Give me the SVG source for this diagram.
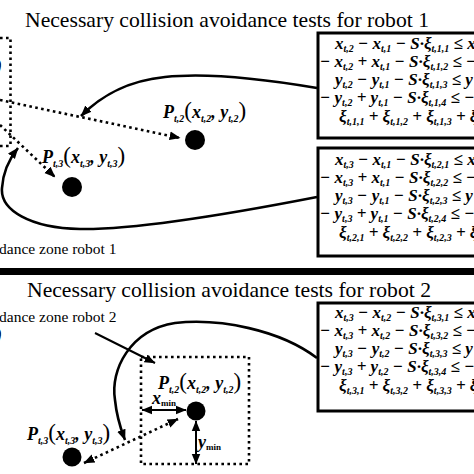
<svg xmlns="http://www.w3.org/2000/svg" width="474" height="474" viewBox="0 0 474 474">
<defs>
<marker id="ah" viewBox="0 0 10 10" refX="9.5" refY="5" markerWidth="11" markerHeight="11" markerUnits="userSpaceOnUse" orient="auto-start-reverse"><path d="M0,1 L10,5 L0,9 z" fill="#000"/></marker>
</defs>
<style>
.title{font-family:"Liberation Serif","Times New Roman",serif;font-size:21.5px;fill:#000}
.lab{font-family:"Liberation Serif","Times New Roman",serif;font-size:15.5px;fill:#000}
.eq{font-family:"Liberation Serif","Times New Roman",serif;font-size:17px;font-weight:bold;font-style:italic;fill:#000}
.s{font-size:10px}
.pl{font-family:"Liberation Serif","Times New Roman",serif;font-size:18px;font-weight:bold;font-style:italic;fill:#000}
.par{font-style:normal;font-weight:normal;font-size:23px}
.box{fill:#fff;stroke:#000;stroke-width:3}
.dot{fill:#000}
.dotted{fill:none;stroke:#000;stroke-width:2.6;stroke-dasharray:2.6 3.4}
.solid{fill:none;stroke:#000;stroke-width:2.6}
.thin{fill:none;stroke:#000;stroke-width:2}
</style>
<rect width="474" height="474" fill="#fff"/>

<text class="title" x="25" y="27" textLength="404" lengthAdjust="spacingAndGlyphs">Necessary collision avoidance tests for robot 1</text>
<text class="title" x="27" y="297" textLength="404" lengthAdjust="spacingAndGlyphs">Necessary collision avoidance tests for robot 2</text>
<rect x="0" y="268" width="474" height="7" fill="#000"/>

<g id="zone1">
<path class="dotted" d="M0,38 H10.5 V146 M0,146 H11"/>
<text class="pl" x="-4" y="72" font-size="22">)</text>
<text class="lab" x="-1" y="254">dance zone robot 1</text>
</g>

<g id="box1">
<rect class="box" x="318" y="33" width="170" height="105"/>
<text class="eq" x="335" y="49">x<tspan class="s" dy="3">t,2</tspan><tspan dy="-3"> − x</tspan><tspan class="s" dy="3">t,1</tspan><tspan dy="-3"> − S·ξ</tspan><tspan class="s" dy="3">t,1,1</tspan><tspan dy="-3"> ≤ x</tspan></text>
<text class="eq" x="320" y="67">− x<tspan class="s" dy="3">t,2</tspan><tspan dy="-3"> + x</tspan><tspan class="s" dy="3">t,1</tspan><tspan dy="-3"> − S·ξ</tspan><tspan class="s" dy="3">t,1,2</tspan><tspan dy="-3"> ≤ −</tspan></text>
<text class="eq" x="335" y="85">y<tspan class="s" dy="3">t,2</tspan><tspan dy="-3"> − y</tspan><tspan class="s" dy="3">t,1</tspan><tspan dy="-3"> − S·ξ</tspan><tspan class="s" dy="3">t,1,3</tspan><tspan dy="-3"> ≤ y</tspan></text>
<text class="eq" x="320" y="103">− y<tspan class="s" dy="3">t,2</tspan><tspan dy="-3"> + y</tspan><tspan class="s" dy="3">t,1</tspan><tspan dy="-3"> − S·ξ</tspan><tspan class="s" dy="3">t,1,4</tspan><tspan dy="-3"> ≤ −</tspan></text>
<text class="eq" x="339" y="122">ξ<tspan class="s" dy="3">t,1,1</tspan><tspan dy="-3"> + ξ</tspan><tspan class="s" dy="3">t,1,2</tspan><tspan dy="-3"> + ξ</tspan><tspan class="s" dy="3">t,1,3</tspan><tspan dy="-3"> + ξ</tspan></text>
</g>

<g id="box2">
<rect class="box" x="318" y="148" width="170" height="108"/>
<text class="eq" x="335" y="165">x<tspan class="s" dy="3">t,3</tspan><tspan dy="-3"> − x</tspan><tspan class="s" dy="3">t,1</tspan><tspan dy="-3"> − S·ξ</tspan><tspan class="s" dy="3">t,2,1</tspan><tspan dy="-3"> ≤ x</tspan></text>
<text class="eq" x="320" y="183">− x<tspan class="s" dy="3">t,3</tspan><tspan dy="-3"> + x</tspan><tspan class="s" dy="3">t,1</tspan><tspan dy="-3"> − S·ξ</tspan><tspan class="s" dy="3">t,2,2</tspan><tspan dy="-3"> ≤ −</tspan></text>
<text class="eq" x="335" y="201">y<tspan class="s" dy="3">t,3</tspan><tspan dy="-3"> − y</tspan><tspan class="s" dy="3">t,1</tspan><tspan dy="-3"> − S·ξ</tspan><tspan class="s" dy="3">t,2,3</tspan><tspan dy="-3"> ≤ y</tspan></text>
<text class="eq" x="320" y="219">− y<tspan class="s" dy="3">t,3</tspan><tspan dy="-3"> + y</tspan><tspan class="s" dy="3">t,1</tspan><tspan dy="-3"> − S·ξ</tspan><tspan class="s" dy="3">t,2,4</tspan><tspan dy="-3"> ≤ −</tspan></text>
<text class="eq" x="339" y="238">ξ<tspan class="s" dy="3">t,2,1</tspan><tspan dy="-3"> + ξ</tspan><tspan class="s" dy="3">t,2,2</tspan><tspan dy="-3"> + ξ</tspan><tspan class="s" dy="3">t,2,3</tspan><tspan dy="-3"> + ξ</tspan></text>
</g>

<g id="p12">
<circle class="dot" cx="195" cy="140" r="10"/>
<text class="pl" x="163" y="118">P<tspan class="s" dy="4">t,2</tspan><tspan class="par" dy="-4">(</tspan>x<tspan class="s" dy="4">t,2</tspan><tspan dy="-4">, </tspan>y<tspan class="s" dy="4">t,2</tspan><tspan class="par" dy="-4">)</tspan></text>
</g>
<g id="p13">
<circle class="dot" cx="72" cy="187" r="10"/>
<text class="pl" x="42" y="163">P<tspan class="s" dy="4">t,3</tspan><tspan class="par" dy="-4">(</tspan>x<tspan class="s" dy="4">t,3</tspan><tspan dy="-4">, </tspan>y<tspan class="s" dy="4">t,3</tspan><tspan class="par" dy="-4">)</tspan></text>
</g>

<g id="zone2">
<path class="dotted" d="M141,357 H249 V464 H141 Z"/>
<text class="pl" x="-4" y="341" font-size="20">)</text>
<text class="lab" x="-1" y="322">dance zone robot 2</text>
</g>

<g id="box3">
<rect class="box" x="318" y="303" width="170" height="108"/>
<text class="eq" x="335" y="318">x<tspan class="s" dy="3">t,3</tspan><tspan dy="-3"> − x</tspan><tspan class="s" dy="3">t,2</tspan><tspan dy="-3"> − S·ξ</tspan><tspan class="s" dy="3">t,3,1</tspan><tspan dy="-3"> ≤ x</tspan></text>
<text class="eq" x="320" y="336">− x<tspan class="s" dy="3">t,3</tspan><tspan dy="-3"> + x</tspan><tspan class="s" dy="3">t,2</tspan><tspan dy="-3"> − S·ξ</tspan><tspan class="s" dy="3">t,3,2</tspan><tspan dy="-3"> ≤ −</tspan></text>
<text class="eq" x="335" y="354">y<tspan class="s" dy="3">t,3</tspan><tspan dy="-3"> − y</tspan><tspan class="s" dy="3">t,2</tspan><tspan dy="-3"> − S·ξ</tspan><tspan class="s" dy="3">t,3,3</tspan><tspan dy="-3"> ≤ y</tspan></text>
<text class="eq" x="320" y="372">− y<tspan class="s" dy="3">t,3</tspan><tspan dy="-3"> + y</tspan><tspan class="s" dy="3">t,2</tspan><tspan dy="-3"> − S·ξ</tspan><tspan class="s" dy="3">t,3,4</tspan><tspan dy="-3"> ≤ −</tspan></text>
<text class="eq" x="339" y="391">ξ<tspan class="s" dy="3">t,3,1</tspan><tspan dy="-3"> + ξ</tspan><tspan class="s" dy="3">t,3,2</tspan><tspan dy="-3"> + ξ</tspan><tspan class="s" dy="3">t,3,3</tspan><tspan dy="-3"> + ξ</tspan></text>
</g>

<g id="p22">
<circle class="dot" cx="196" cy="411" r="9.5"/>
<text class="pl" x="158" y="389">P<tspan class="s" dy="4">t,2</tspan><tspan class="par" dy="-4">(</tspan>x<tspan class="s" dy="4">t,2</tspan><tspan dy="-4">, </tspan>y<tspan class="s" dy="4">t,2</tspan><tspan class="par" dy="-4">)</tspan></text>
</g>
<g id="p23">
<circle class="dot" cx="72" cy="457" r="9.5"/>
<text class="pl" x="27" y="440">P<tspan class="s" dy="4">t,3</tspan><tspan class="par" dy="-4">(</tspan>x<tspan class="s" dy="4">t,3</tspan><tspan dy="-4">, </tspan>y<tspan class="s" dy="4">t,3</tspan><tspan class="par" dy="-4">)</tspan></text>
</g>
<g id="mins">
<text class="pl" x="152" y="404" font-size="16">x<tspan font-size="9" font-style="normal" dy="2">min</tspan></text>
<text class="pl" x="198" y="448" font-size="16">y<tspan font-size="9" font-style="normal" dy="2">min</tspan></text>
</g>

<g id="connectors">
<path class="dotted" d="M0,100 L180,138" marker-end="url(#ah)"/>
<path class="dotted" d="M0,125 L55,177" marker-end="url(#ah)"/>
<path class="solid" d="M317,88 C270,80 210,72 165,77 C125,81 100,97 81,116" marker-end="url(#ah)"/>
<path class="solid" d="M317,197 C240,212 140,230 80,229 C30,228 0,210 2,188 C3,172 10,158 18,148" marker-end="url(#ah)"/>
<path class="solid" d="M317,358 C280,330 220,318 175,323 C130,330 110,370 115,400 C117,420 122,432 125,440" marker-end="url(#ah)"/>
<path class="thin" d="M95,333 L155,363" marker-end="url(#ah)"/>
<path class="dotted" d="M84,463 L178,419" marker-start="url(#ah)" marker-end="url(#ah)"/>
<path class="thin" d="M142,410 L186,410" marker-start="url(#ah)" marker-end="url(#ah)"/>
<path class="thin" d="M196,421 L196,464" marker-start="url(#ah)" marker-end="url(#ah)"/>
</g>
</svg>
